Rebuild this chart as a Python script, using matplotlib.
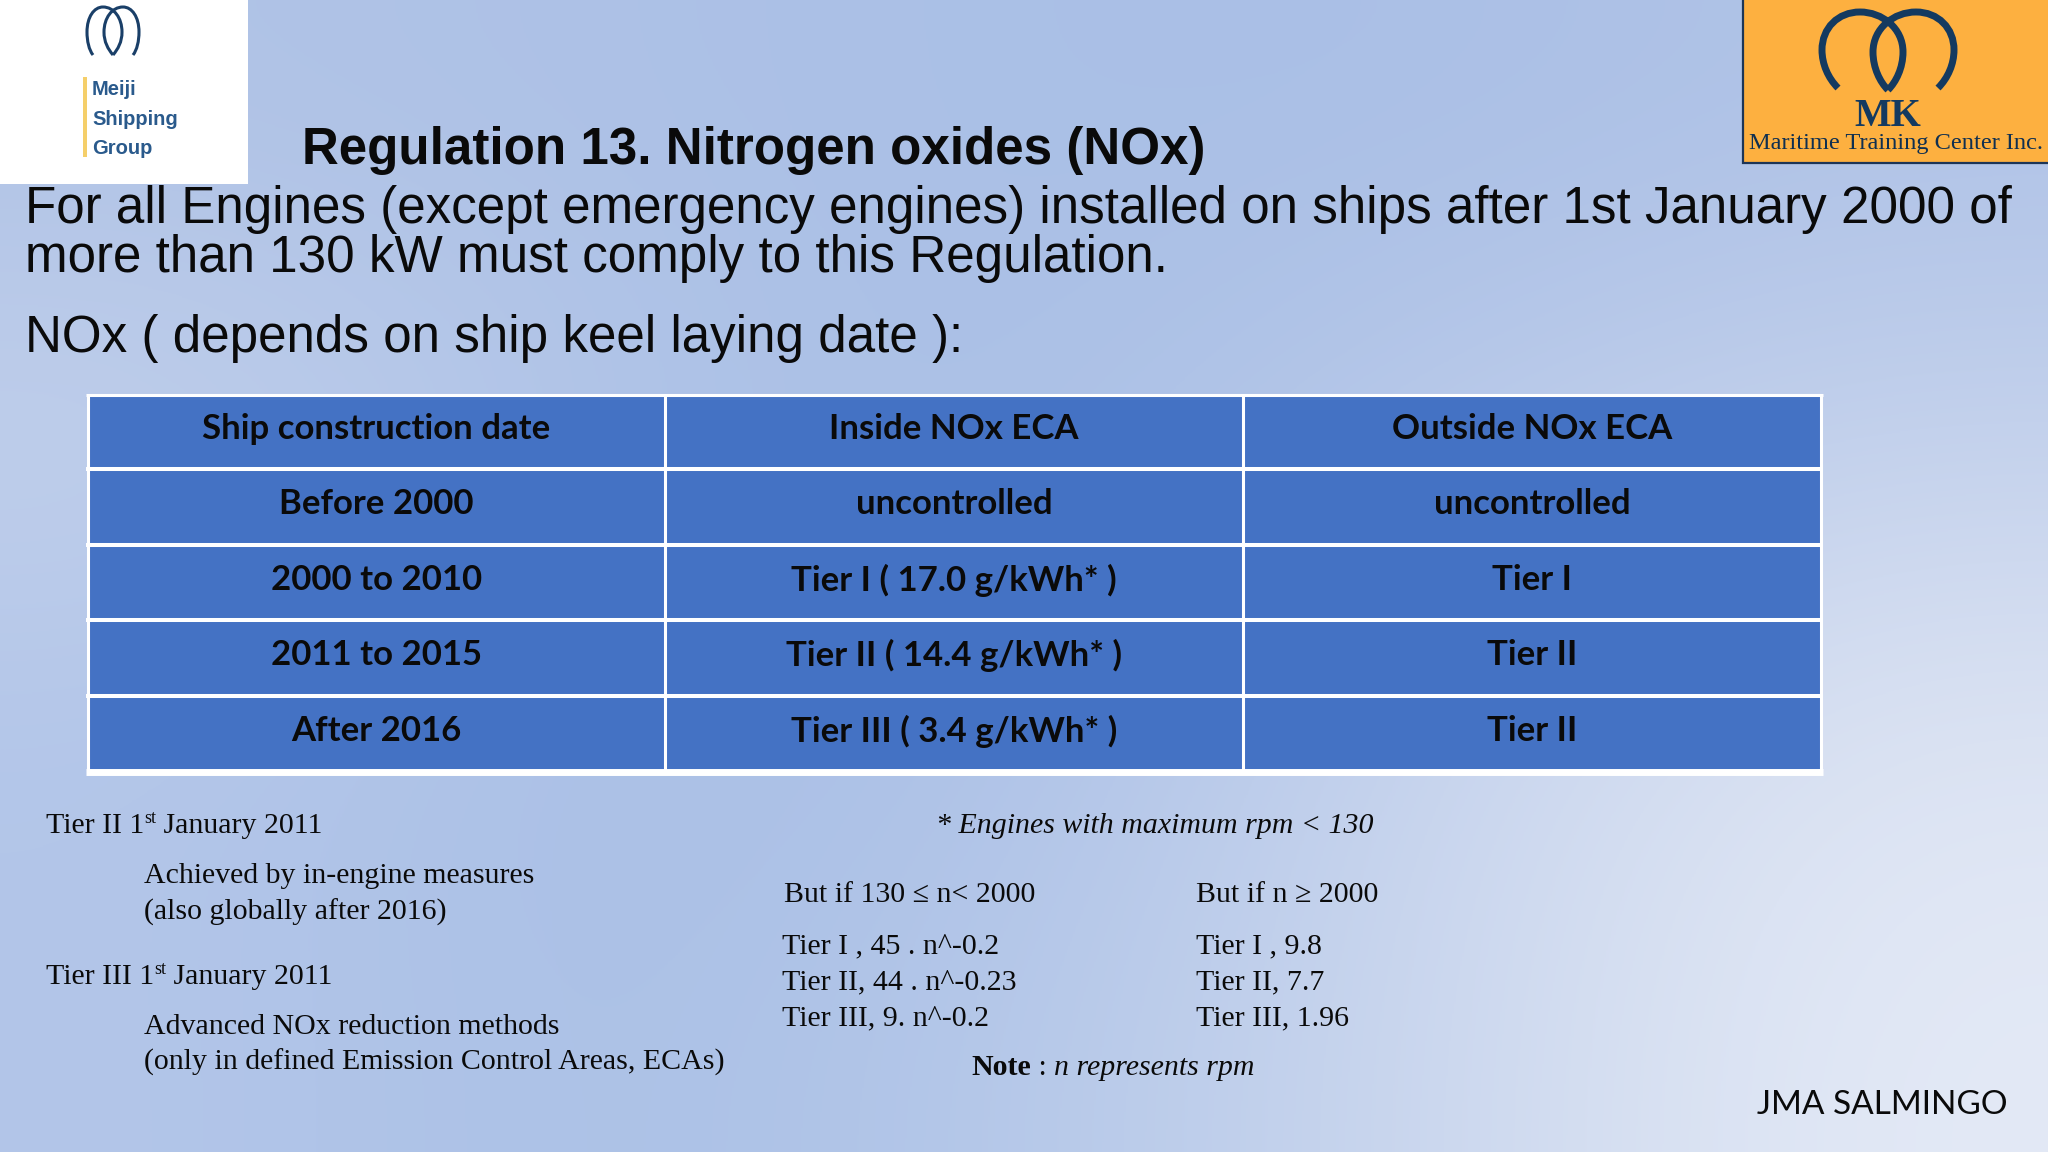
import numpy as np
import matplotlib
matplotlib.use("Agg")
import matplotlib.pyplot as plt
from matplotlib.colors import to_rgb
from matplotlib.patches import Rectangle, PathPatch
from matplotlib.path import Path

# table contents
table_header = ["Ship construction date", "Inside NOx ECA", "Outside NOx ECA"]
construction_dates = ["Before 2000", "2000 to 2010", "2011 to 2015", "After 2016"]
inside_eca = ["uncontrolled", "Tier I ( 17.0 g/kWh* )", "Tier II ( 14.4 g/kWh* )", "Tier III ( 3.4 g/kWh* )"]
outside_eca = ["uncontrolled", "Tier I", "Tier II", "Tier II"]

low_rpm_limits = ["Tier I , 45 . n^-0.2", "Tier II, 44 . n^-0.23", "Tier III, 9. n^-0.2"]
high_rpm_limits = ["Tier I , 9.8", "Tier II, 7.7", "Tier III, 1.96"]

# soft slide background, sampled by eye
bg_colors = [
    ["#b0c3e6", "#adc1e6", "#aac0e6", "#aabfe6", "#b0c3e7"],
    ["#c3d1ec", "#b0c4e8", "#a9bfe6", "#b8c9e9", "#c3d1ec"],
    ["#b3c6e9", "#a9bfe6", "#adc1e7", "#c8d5ee", "#dde4f3"],
    ["#b3c6e9", "#aac0e6", "#b5c8e9", "#cbd7ee", "#e4eaf6"],
]

SANS = "Liberation Sans"
SERIF = "Liberation Serif"
BODY = "#0a0a0a"
NAVY = "#1a3f68"

fig = plt.figure(figsize=(20.48, 11.52), dpi=100)
ax = fig.add_axes([0, 0, 1, 1])
ax.set_xlim(0, 2048)
ax.set_ylim(1152, 0)
ax.axis("off")

bg = np.array([[to_rgb(c) for c in row] for row in bg_colors])
ax.imshow(bg, extent=(0, 2048, 1152, 0), aspect="auto", interpolation="bicubic", zorder=0)


def rings(points, centre, color, width):
    # two interlaced loops of the logos, the second one is the mirror of the first
    codes = [Path.MOVETO] + [Path.CURVE4] * (len(points) - 1)
    mirrored = [(2 * centre - x, y) for x, y in points]
    for pts in (points, mirrored):
        ax.add_patch(PathPatch(Path(pts, codes), fill=False, edgecolor=color, lw=width,
                               capstyle="butt", zorder=3))


def runs(x, y, parts):
    # lay text pieces one after the other on the same baseline
    renderer = fig.canvas.get_renderer()
    for part in parts:
        s, size, family, weight, style, dy = part
        t = ax.text(x, y + dy, s, fontsize=size, family=family, weight=weight, style=style,
                    color=BODY, va="baseline", ha="left", zorder=4)
        x = ax.transData.inverted().transform(t.get_window_extent(renderer).max)[0]
    return x


# left logo
ax.add_patch(Rectangle((0, 0), 248, 184, facecolor="white", edgecolor="none", zorder=2))
rings([(93, 55), (89, 50), (87, 41), (87, 32), (87, 17), (94, 7), (103, 7),
       (114, 7), (122, 18), (122, 32), (122, 42), (118, 49), (113, 55)], 113, NAVY, 2.2)
ax.add_patch(Rectangle((83, 77), 4, 80, facecolor="#f5cf6a", edgecolor="none", zorder=3))
for label, base in zip(["Meiji", "Shipping", "Group"], [95, 125, 154]):
    ax.text(92, base, label, fontsize=14.5, family=SANS, weight="bold",
            color="#2a5a8c", va="baseline", ha="left", zorder=4)

# right logo
ax.add_patch(Rectangle((1743, -3), 310, 166, facecolor="#fdb040", edgecolor="#1d3557", lw=1.6, zorder=2))
rings([(1838, 88), (1828, 78), (1822, 64), (1822, 50), (1822, 28), (1838, 12), (1860, 12),
       (1882, 12), (1903, 28), (1903, 52), (1903, 68), (1896, 82), (1888, 90)], 1888, "#143a60", 5)
ax.text(1888, 126, "MK", fontsize=28, family=SERIF, weight="bold", color="#143a60",
        ha="center", va="baseline", zorder=4)
ax.text(1896, 149, "Maritime Training Center Inc.", fontsize=17.6, family=SERIF, color="#0f2f50",
        ha="center", va="baseline", zorder=4)

# headings
ax.text(302, 164, "Regulation 13. Nitrogen oxides (NOx)", fontsize=36.8, family=SANS, weight="bold",
        color=BODY, va="baseline", zorder=4)
ax.text(25, 223, "For all Engines (except emergency engines) installed on ships after 1st January 2000 of",
        fontsize=36.8, family=SANS, color=BODY, va="baseline", zorder=4)
ax.text(25, 272, "more than 130 kW must comply to this Regulation.", fontsize=36.8, family=SANS,
        color=BODY, va="baseline", zorder=4)
ax.text(25, 352, "NOx ( depends on ship keel laying date ):", fontsize=36.8, family=SANS,
        color=BODY, va="baseline", zorder=4)

# table
col_edges = [87.5, 665, 1243, 1821]
row_edges = [395, 468.5, 545, 620, 695.5, 772]
rows = [table_header] + [list(r) for r in zip(construction_dates, inside_eca, outside_eca)]
ax.add_patch(Rectangle((col_edges[0], row_edges[0]), col_edges[-1] - col_edges[0],
                       row_edges[-1] - row_edges[0], facecolor="#4472c4", edgecolor="none", zorder=2))
for i, row in enumerate(rows):
    for j, label in enumerate(row):
        ax.text((col_edges[j] + col_edges[j + 1]) / 2, (row_edges[i] + row_edges[i + 1]) / 2 - 2.5, label,
                fontsize=25, family="Lato", weight="bold", color="#0a0a0a",
                ha="center", va="center", zorder=4)
for k, y in enumerate(row_edges):
    lw = 5 if k == len(row_edges) - 1 else (2.2 if k == 0 else 2.9)
    ax.plot([col_edges[0] - 1.5, col_edges[-1] + 1.5], [y, y], color="white", lw=lw,
            solid_capstyle="butt", zorder=3)
for x in col_edges:
    ax.plot([x, x], [row_edges[0], row_edges[-1]], color="white", lw=2.2,
            solid_capstyle="butt", zorder=3)

# notes, left block
SIZE = 21.5
plain = lambda s: (s, SIZE, SERIF, "normal", "normal", 0)
sup = lambda s: (s, 13, SERIF, "normal", "normal", -10)
runs(46, 833, [plain("Tier II 1"), sup("st"), plain(" January 2011")])
runs(144, 883, [plain("Achieved by in-engine measures")])
runs(144, 920, [plain("(also globally after 2016)")])
runs(46, 984, [plain("Tier III 1"), sup("st"), plain(" January 2011")])
runs(144, 1034, [plain("Advanced NOx reduction methods")])
runs(144, 1070, [plain("(only in defined Emission Control Areas, ECAs)")])

# notes, right block
runs(936, 833, [("* Engines with maximum rpm < 130", SIZE, SERIF, "normal", "italic", 0)])
runs(784, 902, [plain("But if 130 \u2264 n< 2000")])
runs(1196, 902, [plain("But if n \u2265 2000")])
for base, low, high in zip([953, 989, 1025], low_rpm_limits, high_rpm_limits):
    runs(782, base, [plain(low)])
    runs(1196, base, [plain(high)])
runs(971, 1075, [("Note", SIZE, SERIF, "bold", "normal", 0), plain(" : "),
                 ("n represents rpm", SIZE, SERIF, "normal", "italic", 0)])

ax.text(2008, 1114, "JMA SALMINGO", fontsize=24, family="Lato", color=BODY, ha="right",
        va="baseline", zorder=4)

fig.savefig("out.png", dpi=100)
